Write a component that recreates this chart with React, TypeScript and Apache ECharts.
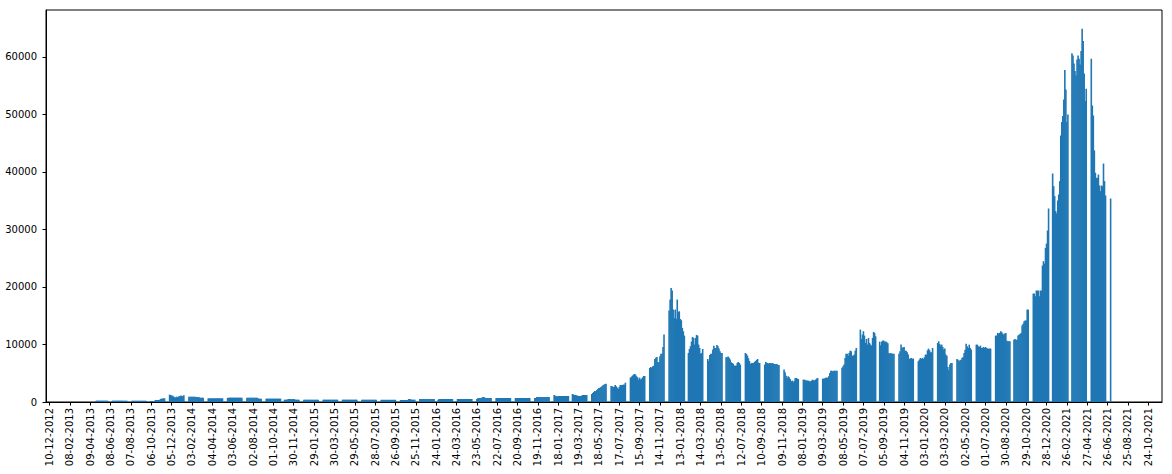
import React, { useEffect, useRef } from "react";
import * as echarts from "echarts";

// Each category is a 3-day period starting at 01-12-2012.
const FIRST_PERIOD_START = Date.UTC(2012, 11, 1);
const DAYS_PER_PERIOD = 3;
const PERIOD_COUNT = 1097;
const FIRST_TICK_PERIOD = 3; // 10-12-2012
const TICK_EVERY_PERIODS = 20; // 60 days

const tickLabels = [
  "10-12-2012", "08-02-2013", "09-04-2013", "08-06-2013", "07-08-2013", "06-10-2013",
  "05-12-2013", "03-02-2014", "04-04-2014", "03-06-2014", "02-08-2014", "01-10-2014",
  "30-11-2014", "29-01-2015", "30-03-2015", "29-05-2015", "28-07-2015", "26-09-2015",
  "25-11-2015", "24-01-2016", "24-03-2016", "23-05-2016", "22-07-2016", "20-09-2016",
  "19-11-2016", "18-01-2017", "19-03-2017", "18-05-2017", "17-07-2017", "15-09-2017",
  "14-11-2017", "13-01-2018", "14-03-2018", "13-05-2018", "12-07-2018", "10-09-2018",
  "09-11-2018", "08-01-2019", "09-03-2019", "08-05-2019", "07-07-2019", "05-09-2019",
  "04-11-2019", "03-01-2020", "03-03-2020", "02-05-2020", "01-07-2020", "30-08-2020",
  "29-10-2020", "28-12-2020", "26-02-2021", "27-04-2021", "26-06-2021", "25-08-2021",
  "24-10-2021",
];

const yTicks = [0, 10000, 20000, 30000, 40000, 50000, 60000];

// Runs of visible bars: first period index of each run, and its values.
const blockStarts = [
  46, 65, 84, 102, 121, 140, 159, 178, 197, 216, 234, 253, 272, 291, 310, 329, 348, 367,
  385, 404, 423, 442, 461, 480, 499, 517, 536, 555, 574, 593, 612, 631, 650, 668, 687,
  706, 725, 744, 763, 782, 800, 819, 838, 857, 876, 895, 914, 933, 951, 970, 989, 1008,
  1027, 1046,
];

const values2013 = [
  [0, 0, 0, 230, 230, 230, 230, 230, 230, 230, 230, 230, 230, 230, 230],
  [230, 230, 230, 230, 230, 230, 230, 230, 230, 230, 230, 230, 230, 230, 230],
  [200, 200, 200, 200, 200, 200, 200, 200, 200, 200, 200, 200, 200, 200, 200],
  [170, 170, 170, 170, 170, 350, 350, 350, 350, 350, 520, 580, 580, 640, 640],
  [1280, 1220, 1100, 1100, 930, 810, 810, 930, 810, 990, 990, 1100, 1100, 990, 1160],
  [930, 930, 930, 930, 930, 930, 930, 870, 870, 870, 810, 750, 750, 750, 750],
];
const values2014 = [
  [640, 640, 640, 640, 640, 640, 640, 640, 640, 640, 640, 640, 640, 640, 640],
  [700, 750, 750, 750, 750, 750, 750, 750, 750, 750, 750, 750, 750, 750, 750],
  [750, 750, 750, 750, 750, 750, 750, 750, 750, 750, 750, 640, 580, 580, 580],
  [580, 580, 580, 580, 580, 580, 580, 580, 580, 580, 580, 580, 580, 580, 580],
  [400, 400, 400, 460, 520, 520, 520, 460, 520, 520, 460, 400, 400, 400, 400],
  [400, 400, 400, 400, 400, 400, 400, 400, 400, 400, 400, 400, 400, 400, 400],
];
const values2015 = [
  [400, 400, 400, 400, 400, 400, 400, 400, 400, 400, 400, 400, 400, 400, 400],
  [400, 400, 400, 400, 400, 400, 400, 400, 400, 400, 400, 400, 400, 400, 400],
  [400, 400, 400, 400, 400, 400, 400, 400, 400, 400, 400, 400, 400, 400, 400],
  [380, 380, 380, 380, 380, 380, 380, 380, 380, 380, 380, 380, 380, 380, 380],
  [350, 350, 350, 350, 350, 350, 350, 350, 520, 520, 470, 400, 400, 400, 400],
  [520, 520, 520, 520, 520, 520, 520, 520, 520, 520, 520, 520, 520, 520, 520],
];
const values2016 = [
  [400, 520, 520, 520, 520, 520, 520, 520, 520, 520, 520, 520, 520, 520, 520],
  [520, 520, 520, 520, 520, 520, 520, 520, 520, 520, 520, 520, 520, 520, 520],
  [520, 640, 700, 700, 700, 760, 870, 870, 760, 700, 700, 700, 700, 700, 700],
  [700, 700, 700, 700, 700, 700, 700, 700, 700, 700, 700, 700, 700, 700, 700],
  [700, 700, 700, 700, 700, 700, 700, 700, 700, 700, 700, 700, 700, 700, 700],
  [700, 700, 870, 870, 870, 870, 870, 870, 870, 870, 870, 870, 870, 870, 870],
];
const values2017 = [
  [1220, 1100, 1040, 930, 1040, 1040, 1040, 1040, 1040, 1040, 1040, 1040, 1040, 1040, 1040],
  [1390, 1300, 1220, 1220, 1160, 1100, 1040, 1040, 1040, 1100, 1220, 1220, 1220, 1220, 1220],
  [1390, 1570, 1740, 1910, 1910, 2090, 2260, 2440, 2490, 2610, 2730, 2900, 3020, 3130, 3190],
  [2780, 2730, 2610, 2670, 2960, 2730, 2490, 2260, 2610, 2960, 2960, 2960, 3020, 3020, 3360],
  [4230, 4410, 4580, 4760, 4870, 4760, 4470, 4290, 3890, 4230, 3890, 4060, 4290, 4520, 4520],
  [5920, 6090, 5970, 6210, 6320, 7480, 7710, 7830, 6960, 6900, 7950, 8410, 8410, 9570, 11720],
];
const values2018 = [
  [15890, 17810, 19840, 19370, 16070, 14620, 16070, 14440, 17810, 15660, 15780, 14440, 14210, 12880, 12300, 11540],
  [8530, 9220, 9690, 10500, 11310, 11140, 9980, 11140, 11660, 11540, 9980, 9400, 8410, 8530, 9220],
  [7480, 7130, 8180, 8410, 8410, 9110, 9800, 9400, 9400, 9920, 9690, 9280, 8820, 8530, 8530],
  [7770, 7770, 7890, 7710, 7370, 6900, 6790, 6670, 6320, 6320, 6320, 6790, 6960, 6790, 6500],
  [8530, 8350, 8060, 7600, 7130, 6610, 6790, 6790, 6790, 6960, 7130, 7310, 7480, 6790, 6790],
  [6500, 6960, 6790, 6790, 6670, 6790, 6790, 6670, 6790, 6610, 6610, 6610, 6610, 6440, 6440],
];
const values2019 = [
  [5630, 5160, 4580, 4180, 4470, 4290, 4000, 3600, 3710, 3420, 3710, 4180, 4180, 4060, 4000],
  [3890, 3890, 3770, 3770, 3710, 3710, 3600, 3600, 3710, 3890, 3770, 3770, 3890, 4060, 4180],
  [4060, 4060, 4120, 4230, 4230, 4230, 4470, 5050, 5450, 5450, 5340, 5450, 5450, 5450, 5450],
  [5970, 6210, 6500, 7660, 8410, 8410, 8060, 8530, 8930, 8820, 8060, 8060, 8240, 8930, 9400],
  [12590, 10960, 11720, 12300, 11540, 10270, 10960, 9980, 11140, 10270, 9980, 9800, 11140, 12180, 12010, 11430],
  [10500, 9860, 10500, 10670, 10670, 10500, 10500, 10380, 10210, 8530, 8410, 8530, 8410, 8410, 8410],
];
const values2020 = [
  [8410, 8820, 9980, 9400, 9510, 9570, 8930, 8930, 8640, 8240, 7540, 7540, 7660, 7540, 7540],
  [7080, 7370, 7660, 7480, 7660, 7480, 7770, 8240, 8240, 8990, 9280, 8990, 8640, 8640, 9400],
  [10270, 10560, 10090, 9800, 9980, 9570, 9110, 9280, 8240, 8060, 6090, 5510, 6500, 6790, 6790],
  [7480, 7360, 7080, 7260, 7360, 7660, 7830, 8530, 9100, 10140, 9690, 9400, 9970, 9400, 9100],
  [9970, 9970, 9690, 9570, 9800, 9400, 9400, 9570, 9400, 9570, 9400, 9280, 9280, 9280, 9280],
  [11540, 11540, 12010, 11890, 12010, 12300, 12130, 11890, 11710, 11890, 12010, 10670, 10560, 10560, 10560],
];
const values2021 = [
  [10840, 10960, 10840, 10840, 11540, 11710, 11830, 12010, 13280, 13620, 14040, 14150, 14150, 16060, 16060],
  [18850, 18850, 18390, 19370, 19370, 19370, 18390, 19370, 19370, 23720, 24480, 24070, 26800, 27540, 29810, 33640],
  [39730, 37530, 35790, 33180, 32770, 35030, 36070, 38400, 46340, 48670, 49710, 52600, 57720, 54340, 48670, 49990],
  [60610, 60260, 58870, 57540, 56780, 59560, 60260, 59680, 58690, 61020, 64900, 62760, 57120, 52320, 54460],
  [59680, 51560, 49820, 43730, 39850, 38980, 38980, 39550, 37640, 36660, 37640, 37530, 41460, 38400, 35900],
  [35380],
];

const Y_MAX = 68150;
const BAR_COLOR = "#1f77b4";
const FONT = "DejaVu Sans";

function pad2(n: number) {
  return n < 10 ? "0" + n : String(n);
}

function buildCategories(): string[] {
  const out: string[] = [];
  for (let i = 0; i < PERIOD_COUNT; i++) {
    const d = new Date(FIRST_PERIOD_START + i * DAYS_PER_PERIOD * 86400000);
    out.push(pad2(d.getUTCDate()) + "-" + pad2(d.getUTCMonth() + 1) + "-" + d.getUTCFullYear());
  }
  return out;
}

function buildSeries(): (number | null)[] {
  const blocks = [
    ...values2013, ...values2014, ...values2015, ...values2016, ...values2017,
    ...values2018, ...values2019, ...values2020, ...values2021,
  ];
  const data: (number | null)[] = new Array(PERIOD_COUNT).fill(null);
  blocks.forEach((vals, b) => {
    const start = blockStarts[b];
    vals.forEach((v, j) => {
      if (start + j < PERIOD_COUNT) data[start + j] = v;
    });
  });
  return data;
}

const isTick = (index: number) =>
  index >= FIRST_TICK_PERIOD && (index - FIRST_TICK_PERIOD) % TICK_EVERY_PERIODS === 0;

export default function App() {
  const ref = useRef<HTMLDivElement>(null);

  useEffect(() => {
    if (!ref.current) return;
    const chart = echarts.init(ref.current, undefined, { renderer: "svg" });
    chart.setOption({
      animation: false,
      backgroundColor: "#ffffff",
      grid: {
        left: 46,
        top: 10,
        width: 1116,
        height: 392,
        show: true,
        borderColor: "#000000",
        borderWidth: 1,
        backgroundColor: "transparent",
        containLabel: false,
      },
      xAxis: {
        type: "category",
        data: buildCategories(),
        boundaryGap: true,
        axisLine: { show: true, lineStyle: { color: "#000000", width: 1 } },
        axisTick: {
          show: true,
          alignWithLabel: true,
          interval: (index: number) => isTick(index),
          length: 3.5,
          lineStyle: { color: "#000000", width: 1 },
        },
        axisLabel: {
          show: true,
          interval: (index: number) => isTick(index),
          rotate: 90,
          margin: 6,
          fontSize: 10,
          fontFamily: FONT,
          color: "#000000",
          formatter: (_v: string, index: number) =>
            isTick(index) ? tickLabels[(index - FIRST_TICK_PERIOD) / TICK_EVERY_PERIODS] ?? "" : "",
        },
        splitLine: { show: false },
      },
      yAxis: {
        type: "value",
        min: 0,
        max: Y_MAX,
        axisLine: { show: true, lineStyle: { color: "#000000", width: 1 } },
        axisTick: {
          show: true,
          length: 3.5,
          customValues: yTicks,
          lineStyle: { color: "#000000", width: 1 },
        },
        axisLabel: {
          show: true,
          customValues: yTicks,
          margin: 9,
          fontSize: 10,
          fontFamily: FONT,
          color: "#000000",
          formatter: (v: number) => String(v),
        },
        splitLine: { show: false },
      },
      series: [
        {
          type: "bar",
          data: buildSeries(),
          barWidth: 1.6,
          itemStyle: { color: BAR_COLOR },
          silent: true,
          emphasis: { disabled: true },
        },
      ],
    });
    return () => chart.dispose();
  }, []);

  return (
    <div
      ref={ref}
      style={{ position: "fixed", left: 0, top: 0, width: 1172, height: 474 }}
    />
  );
}
